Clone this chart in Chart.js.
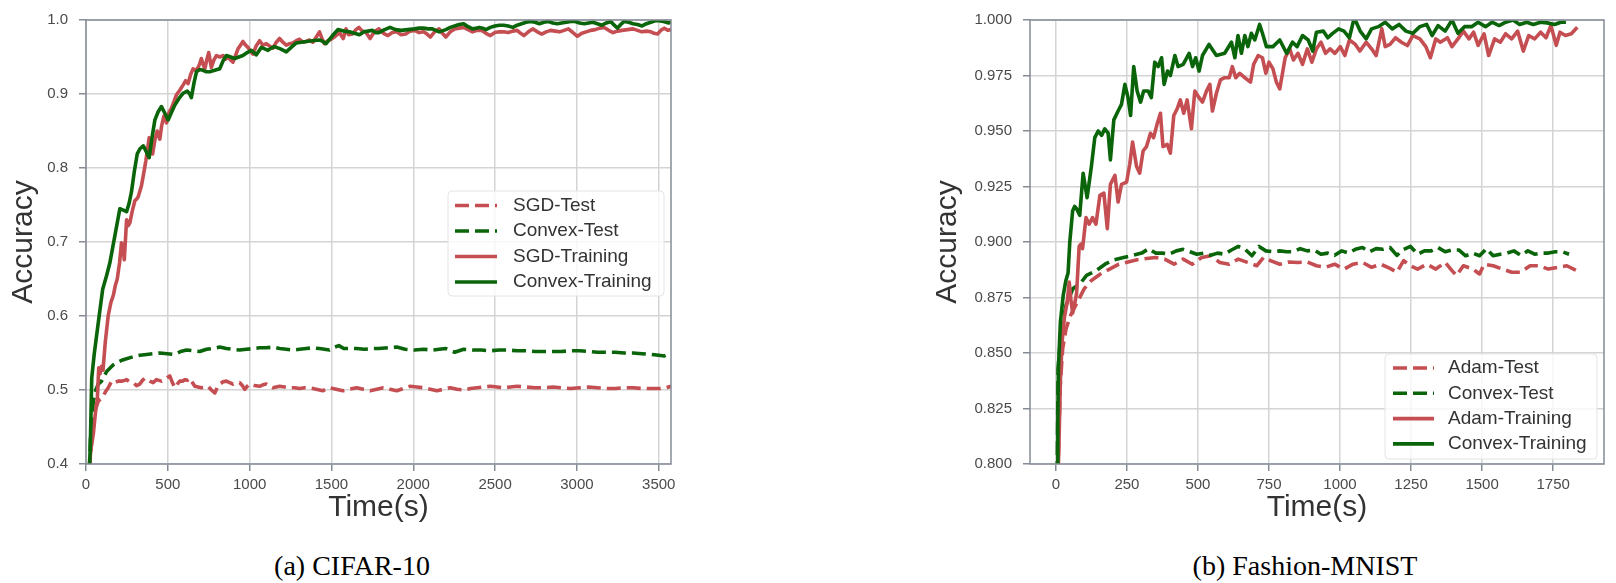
<!DOCTYPE html>
<html>
<head>
<meta charset="utf-8">
<title>Accuracy vs time</title>
<script src="https://cdn.jsdelivr.net/npm/chart.js@4.4.1/dist/chart.umd.min.js"></script>
<style>
  html, body { margin: 0; padding: 0; background: #fff; }
  #wrap { position: relative; width: 1616px; height: 583px; overflow: hidden; }
  canvas { position: absolute; top: 0; }
  #cifar { left: 0; }
  #fashion { left: 850px; }
  .caption {
    position: absolute; top: 550px; transform: translateX(-50%);
    font-family: "Liberation Serif", "Times New Roman", serif; font-size: 28px;
    color: #000; white-space: nowrap;
  }
</style>
</head>
<body>
<div id="wrap">
  <canvas id="cifar" width="800" height="530"></canvas>
  <canvas id="fashion" width="766" height="530"></canvas>
  <div class="caption" style="left:352px">(a) CIFAR-10</div>
  <div class="caption" style="left:1305px">(b) Fashion-MNIST</div>
</div>
<script>
// tick values
const cifarTimeTicks = [0, 500, 1000, 1500, 2000, 2500, 3000, 3500];
const cifarAccTicks = [0.4, 0.5, 0.6, 0.7, 0.8, 0.9, 1.0];
const fashionTimeTicks = [0, 250, 500, 750, 1000, 1250, 1500, 1750];
const fashionAccTicks = [0.8, 0.825, 0.85, 0.875, 0.9, 0.925, 0.95, 0.975, 1.0];

// (a) CIFAR-10, [time s, accuracy]
const cifarSgdTest = [[20,0.39],[35,0.432],[45,0.455],[55,0.472],[75,0.485],[90,0.488],[106,0.492],[120,0.498],[136,0.503],[157,0.512],[177,0.510],[197,0.512],[222,0.512],[248,0.514],[268,0.511],[289,0.510],[309,0.506],[329,0.508],[345,0.513],[360,0.516],[375,0.514],[390,0.512],[410,0.510],[431,0.514],[446,0.513],[461,0.512],[477,0.514],[492,0.516],[512,0.519],[528,0.510],[543,0.503],[558,0.508],[573,0.512],[590,0.512],[604,0.514],[619,0.513],[634,0.516],[650,0.510],[665,0.505],[685,0.504],[705,0.503],[726,0.504],[746,0.505],[766,0.500],[787,0.496],[802,0.503],[817,0.508],[838,0.511],[858,0.512],[878,0.510],[898,0.508],[919,0.510],[939,0.510],[955,0.506],[970,0.501],[985,0.505],[1000,0.508],[1030,0.506],[1061,0.505],[1081,0.507],[1102,0.508],[1122,0.505],[1142,0.503],[1163,0.504],[1183,0.505],[1214,0.504],[1244,0.503],[1275,0.503],[1305,0.502],[1336,0.503],[1366,0.503],[1386,0.502],[1407,0.501],[1427,0.500],[1447,0.499],[1468,0.501],[1488,0.503],[1508,0.502],[1529,0.501],[1549,0.500],[1569,0.499],[1590,0.500],[1610,0.501],[1654,0.503],[1695,0.501],[1736,0.499],[1777,0.501],[1817,0.503],[1858,0.501],[1899,0.499],[1940,0.502],[1981,0.505],[2022,0.504],[2063,0.503],[2104,0.501],[2144,0.499],[2185,0.501],[2226,0.503],[2267,0.501],[2308,0.500],[2349,0.502],[2390,0.503],[2430,0.504],[2471,0.505],[2512,0.504],[2553,0.503],[2594,0.504],[2635,0.505],[2690,0.504],[2744,0.503],[2798,0.503],[2853,0.504],[2907,0.503],[2962,0.502],[3016,0.503],[3071,0.504],[3125,0.503],[3180,0.502],[3234,0.502],[3289,0.503],[3343,0.503],[3398,0.502],[3452,0.502],[3507,0.502],[3540,0.503],[3575,0.505]];
const cifarConvexTest = [[20,0.39],[30,0.45],[45,0.485],[60,0.500],[75,0.508],[95,0.512],[126,0.525],[167,0.534],[198,0.538],[228,0.541],[289,0.545],[330,0.547],[370,0.548],[410,0.549],[451,0.550],[497,0.549],[543,0.548],[578,0.552],[614,0.554],[655,0.553],[695,0.552],[736,0.555],[776,0.556],[817,0.558],[858,0.556],[898,0.555],[939,0.554],[980,0.555],[1020,0.556],[1061,0.557],[1102,0.557],[1142,0.558],[1183,0.556],[1224,0.555],[1264,0.554],[1305,0.555],[1346,0.556],[1386,0.557],[1427,0.556],[1488,0.554],[1520,0.558],[1545,0.560],[1575,0.556],[1610,0.556],[1654,0.556],[1700,0.555],[1750,0.556],[1790,0.556],[1845,0.557],[1899,0.558],[1950,0.555],[2008,0.554],[2063,0.555],[2117,0.554],[2158,0.555],[2199,0.556],[2230,0.553],[2253,0.551],[2280,0.553],[2308,0.555],[2362,0.554],[2417,0.554],[2471,0.553],[2526,0.554],[2580,0.554],[2635,0.553],[2689,0.553],[2744,0.552],[2798,0.552],[2853,0.552],[2907,0.552],[2962,0.553],[3016,0.553],[3071,0.552],[3125,0.551],[3180,0.551],[3234,0.551],[3289,0.550],[3343,0.550],[3398,0.549],[3452,0.548],[3500,0.547],[3534,0.546],[3575,0.550]];
const cifarSgdTrain = [[18,0.39],[30,0.42],[45,0.441],[58,0.47],[69,0.487],[78,0.530],[86,0.522],[95,0.532],[104,0.527],[118,0.565],[136,0.601],[152,0.618],[167,0.628],[180,0.642],[191,0.650],[205,0.672],[217,0.699],[228,0.690],[234,0.676],[248,0.730],[258,0.722],[268,0.726],[283,0.742],[299,0.756],[309,0.758],[319,0.761],[339,0.776],[352,0.792],[366,0.810],[386,0.841],[397,0.826],[407,0.819],[421,0.838],[435,0.850],[451,0.839],[463,0.858],[476,0.870],[492,0.861],[507,0.875],[522,0.881],[538,0.890],[553,0.899],[573,0.905],[593,0.912],[609,0.918],[624,0.914],[639,0.926],[654,0.934],[670,0.932],[685,0.936],[695,0.941],[705,0.948],[716,0.940],[726,0.934],[738,0.946],[750,0.956],[758,0.946],[766,0.936],[782,0.946],[797,0.952],[817,0.950],[837,0.952],[853,0.947],[868,0.950],[883,0.946],[898,0.943],[914,0.952],[929,0.961],[944,0.966],[959,0.971],[975,0.966],[990,0.963],[1005,0.958],[1020,0.954],[1040,0.965],[1061,0.972],[1081,0.966],[1102,0.968],[1122,0.965],[1142,0.962],[1163,0.970],[1183,0.975],[1203,0.970],[1224,0.966],[1244,0.968],[1264,0.969],[1285,0.972],[1305,0.974],[1325,0.970],[1346,0.971],[1366,0.973],[1386,0.970],[1407,0.977],[1427,0.984],[1442,0.975],[1457,0.968],[1478,0.972],[1498,0.974],[1524,0.978],[1549,0.983],[1572,0.975],[1589,0.988],[1605,0.980],[1627,0.981],[1650,0.987],[1668,0.990],[1688,0.985],[1708,0.984],[1736,0.975],[1762,0.984],[1790,0.988],[1818,0.982],[1845,0.979],[1872,0.983],[1899,0.984],[1926,0.980],[1954,0.981],[1981,0.985],[2008,0.986],[2036,0.983],[2063,0.984],[2084,0.981],[2104,0.977],[2130,0.984],[2158,0.988],[2178,0.982],[2199,0.977],[2226,0.984],[2253,0.988],[2280,0.989],[2308,0.990],[2335,0.987],[2362,0.984],[2390,0.986],[2417,0.986],[2444,0.982],[2471,0.979],[2499,0.983],[2526,0.984],[2553,0.984],[2580,0.983],[2608,0.985],[2635,0.986],[2656,0.982],[2676,0.979],[2703,0.984],[2730,0.988],[2758,0.984],[2785,0.981],[2812,0.984],[2839,0.986],[2867,0.985],[2894,0.984],[2921,0.986],[2948,0.988],[2976,0.983],[3003,0.978],[3030,0.982],[3057,0.984],[3084,0.986],[3112,0.987],[3139,0.989],[3166,0.990],[3194,0.986],[3221,0.983],[3248,0.985],[3275,0.986],[3309,0.987],[3343,0.988],[3370,0.986],[3398,0.984],[3425,0.985],[3452,0.984],[3472,0.982],[3493,0.981],[3513,0.986],[3534,0.989],[3555,0.986],[3575,0.987]];
const cifarConvexTrain = [[20,0.39],[26,0.42],[35,0.516],[50,0.548],[65,0.574],[84,0.606],[102,0.636],[125,0.654],[146,0.672],[176,0.708],[207,0.745],[228,0.743],[248,0.741],[263,0.752],[278,0.768],[295,0.795],[313,0.819],[330,0.826],[350,0.830],[368,0.822],[386,0.814],[404,0.842],[421,0.865],[441,0.876],[461,0.883],[482,0.874],[502,0.865],[522,0.875],[543,0.885],[568,0.894],[593,0.901],[619,0.904],[634,0.900],[644,0.895],[660,0.915],[675,0.930],[695,0.933],[715,0.932],[736,0.930],[756,0.930],[787,0.932],[817,0.934],[838,0.945],[858,0.952],[884,0.950],[909,0.948],[934,0.950],[959,0.952],[985,0.956],[1010,0.959],[1041,0.953],[1071,0.963],[1092,0.961],[1112,0.959],[1132,0.962],[1152,0.964],[1188,0.961],[1224,0.957],[1254,0.963],[1285,0.969],[1316,0.970],[1346,0.971],[1386,0.972],[1427,0.973],[1447,0.971],[1467,0.968],[1503,0.978],[1539,0.987],[1575,0.985],[1610,0.984],[1640,0.982],[1671,0.980],[1700,0.984],[1749,0.986],[1770,0.983],[1790,0.983],[1825,0.987],[1858,0.990],[1892,0.987],[1926,0.986],[1967,0.987],[2008,0.988],[2036,0.989],[2063,0.989],[2090,0.988],[2117,0.988],[2158,0.984],[2199,0.987],[2226,0.990],[2253,0.992],[2280,0.994],[2308,0.995],[2335,0.991],[2362,0.988],[2383,0.989],[2403,0.990],[2424,0.989],[2444,0.987],[2471,0.990],[2499,0.992],[2526,0.993],[2553,0.993],[2580,0.992],[2608,0.990],[2635,0.993],[2662,0.995],[2690,0.997],[2717,0.998],[2744,0.997],[2771,0.995],[2798,0.997],[2826,0.998],[2853,0.996],[2880,0.995],[2907,0.996],[2935,0.997],[2962,0.998],[2989,0.998],[3016,0.996],[3044,0.995],[3071,0.996],[3098,0.997],[3125,0.995],[3153,0.993],[3180,0.996],[3207,0.998],[3228,0.993],[3248,0.989],[3268,0.994],[3289,0.998],[3316,0.997],[3343,0.995],[3370,0.994],[3398,0.992],[3425,0.995],[3452,0.997],[3478,0.999],[3501,0.999],[3530,0.998],[3561,0.996],[3575,0.997]];

// (b) Fashion-MNIST, [time s, accuracy]
const fashionAdamTest = [[6,0.795],[8,0.800],[15,0.8345],[24,0.852],[36,0.861],[52,0.867],[76,0.873],[100,0.879],[125,0.8827],[157,0.8856],[189,0.8878],[222,0.890],[254,0.891],[286,0.892],[319,0.8926],[351,0.893],[383,0.8923],[416,0.890],[448,0.8923],[480,0.890],[513,0.893],[545,0.8938],[577,0.8908],[610,0.890],[642,0.8923],[674,0.8908],[707,0.8893],[731,0.893],[755,0.8916],[788,0.890],[820,0.891],[852,0.8908],[885,0.891],[917,0.8893],[949,0.8886],[981,0.890],[1014,0.8878],[1046,0.890],[1079,0.8908],[1111,0.8886],[1143,0.890],[1176,0.8881],[1200,0.8864],[1224,0.8916],[1248,0.8893],[1273,0.8878],[1305,0.890],[1337,0.8878],[1370,0.8908],[1394,0.8871],[1410,0.8849],[1434,0.8893],[1467,0.8878],[1491,0.8856],[1507,0.890],[1539,0.8893],[1572,0.8878],[1604,0.8864],[1636,0.8864],[1669,0.8893],[1701,0.8893],[1733,0.8878],[1766,0.8886],[1798,0.8893],[1822,0.8878],[1839,0.8867]];
const fashionConvexTest = [[3,0.795],[5,0.800],[8,0.843],[19,0.861],[36,0.8716],[60,0.879],[84,0.881],[108,0.885],[141,0.887],[173,0.890],[205,0.892],[238,0.893],[270,0.894],[302,0.895],[327,0.897],[351,0.895],[375,0.895],[399,0.8945],[424,0.896],[448,0.8967],[472,0.8956],[496,0.8945],[521,0.895],[545,0.894],[569,0.895],[593,0.8945],[618,0.8964],[642,0.898],[666,0.8967],[690,0.8938],[715,0.898],[739,0.896],[763,0.8956],[788,0.896],[812,0.8956],[836,0.8956],[860,0.897],[885,0.896],[909,0.8964],[933,0.8945],[957,0.895],[981,0.894],[1006,0.896],[1030,0.895],[1054,0.8967],[1079,0.8975],[1103,0.8956],[1127,0.897],[1151,0.8967],[1176,0.8975],[1200,0.894],[1224,0.8967],[1248,0.898],[1273,0.8945],[1297,0.896],[1321,0.896],[1345,0.8975],[1370,0.8956],[1394,0.8964],[1418,0.8964],[1442,0.8938],[1467,0.895],[1491,0.8938],[1515,0.897],[1539,0.8938],[1564,0.8945],[1588,0.895],[1612,0.896],[1636,0.894],[1661,0.896],[1685,0.8945],[1709,0.895],[1733,0.895],[1758,0.8956],[1782,0.8956],[1806,0.8945]];
const fashionAdamTrain = [[8,0.795],[12,0.815],[16,0.838],[22,0.855],[30,0.866],[40,0.873],[47,0.882],[53,0.874],[59,0.868],[66,0.872],[73,0.877],[82,0.898],[88,0.899],[94,0.897],[106,0.911],[117,0.908],[129,0.911],[141,0.908],[155,0.921],[169,0.922],[181,0.906],[192,0.926],[208,0.930],[219,0.918],[231,0.926],[249,0.927],[260,0.935],[270,0.945],[284,0.934],[295,0.931],[307,0.941],[319,0.943],[333,0.949],[344,0.947],[356,0.953],[368,0.958],[377,0.943],[392,0.944],[403,0.940],[415,0.957],[427,0.960],[438,0.964],[450,0.958],[462,0.964],[477,0.951],[489,0.968],[504,0.965],[516,0.963],[530,0.968],[542,0.971],[551,0.959],[565,0.967],[579,0.973],[594,0.974],[610,0.974],[621,0.979],[633,0.974],[647,0.976],[665,0.974],[685,0.972],[696,0.980],[712,0.984],[727,0.983],[739,0.976],[750,0.981],[764,0.978],[776,0.972],[788,0.969],[807,0.983],[823,0.987],[836,0.982],[852,0.985],[868,0.980],[885,0.987],[901,0.981],[917,0.987],[933,0.990],[949,0.985],[965,0.987],[982,0.985],[1001,0.988],[1017,0.984],[1033,0.991],[1054,0.989],[1070,0.986],[1092,0.990],[1111,0.987],[1127,0.984],[1147,0.996],[1159,0.988],[1176,0.989],[1195,0.992],[1216,0.990],[1237,0.9885],[1256,0.993],[1281,0.9915],[1302,0.988],[1318,0.983],[1337,0.9915],[1353,0.990],[1378,0.992],[1394,0.988],[1415,0.9915],[1434,0.995],[1454,0.9915],[1470,0.9945],[1486,0.9886],[1507,0.9938],[1523,0.984],[1544,0.9915],[1564,0.990],[1583,0.9938],[1604,0.9915],[1625,0.995],[1645,0.986],[1664,0.993],[1685,0.9915],[1706,0.9945],[1725,0.992],[1742,0.9975],[1761,0.9886],[1774,0.9945],[1793,0.993],[1814,0.9938],[1835,0.9967]];
const fashionConvexTrain = [[5,0.795],[7,0.820],[9,0.843],[16,0.864],[26,0.876],[35,0.8825],[43,0.886],[49,0.900],[59,0.914],[66,0.916],[73,0.915],[84,0.912],[96,0.931],[110,0.920],[125,0.934],[137,0.947],[149,0.950],[161,0.948],[172,0.951],[184,0.949],[192,0.937],[204,0.955],[219,0.959],[231,0.962],[243,0.971],[254,0.965],[263,0.957],[274,0.979],[286,0.968],[298,0.963],[309,0.968],[325,0.968],[336,0.965],[348,0.981],[360,0.979],[372,0.983],[381,0.971],[393,0.977],[403,0.975],[419,0.984],[430,0.979],[448,0.980],[469,0.985],[481,0.979],[492,0.983],[504,0.977],[516,0.984],[539,0.989],[565,0.984],[594,0.985],[618,0.990],[630,0.983],[641,0.993],[653,0.985],[665,0.993],[676,0.988],[688,0.994],[700,0.991],[717,0.998],[727,0.994],[741,0.988],[764,0.988],[788,0.991],[812,0.985],[833,0.990],[849,0.988],[868,0.993],[888,0.991],[904,0.986],[917,0.9945],[941,0.995],[957,0.992],[974,0.994],[995,0.996],[1014,0.995],[1033,0.992],[1050,1.001],[1071,0.995],[1092,0.9915],[1111,0.996],[1135,0.997],[1159,0.999],[1184,0.996],[1208,0.998],[1232,0.995],[1256,0.994],[1281,0.997],[1305,0.998],[1324,0.993],[1345,0.9975],[1370,0.995],[1394,1.000],[1415,0.994],[1438,0.997],[1463,0.997],[1486,0.999],[1512,0.997],[1535,0.999],[1560,0.9975],[1583,0.999],[1609,1.000],[1632,0.998],[1657,0.999],[1680,0.998],[1706,0.999],[1729,0.9987],[1755,0.998],[1777,0.999],[1795,0.999]];

const RED = '#c44e52';
const GREEN = '#0a640a';
const GRID = '#d4d4d4';
const SPINE = '#858c96';
const TICK_TEXT = '#4a4a4a';
const TITLE_TEXT = '#333333';
const FONT = '"Liberation Sans", Arial, sans-serif';

function lineSet(label, points, color, dashed, order) {
  return {
    label: label,
    data: points.map(p => ({ x: p[0], y: p[1] })),
    borderColor: color,
    backgroundColor: color,
    borderWidth: 3.6,
    borderDash: dashed ? [14, 6] : [],
    borderJoinStyle: 'round',
    borderCapStyle: 'butt',
    pointRadius: 0,
    tension: 0,
    fill: false,
    clip: 0,
    order: order
  };
}

// axes box drawn over the lines, like matplotlib spines
const frame = {
  id: 'frame',
  afterDraw(chart) {
    const { ctx, chartArea: a } = chart;
    ctx.save();
    ctx.strokeStyle = SPINE;
    ctx.lineWidth = 1.5;
    ctx.strokeRect(a.left, a.top, a.right - a.left, a.bottom - a.top);
    ctx.restore();
  }
};

// legend inside the plot area
const boxLegend = {
  id: 'boxLegend',
  afterDraw(chart, args, o) {
    const { ctx, chartArea: a } = chart;
    const x0 = a.left + o.left;
    const y0 = a.top + o.top;
    ctx.save();
    ctx.beginPath();
    ctx.roundRect(x0, y0, o.width, o.height, 4);
    ctx.fillStyle = 'rgba(255,255,255,0.8)';
    ctx.fill();
    ctx.strokeStyle = '#e4e4e4';
    ctx.lineWidth = 1;
    ctx.stroke();
    ctx.font = o.fontSize + 'px ' + FONT;
    ctx.textBaseline = 'middle';
    chart.data.datasets.forEach((ds, i) => {
      const y = y0 + o.firstRow + i * o.rowGap;
      ctx.beginPath();
      ctx.setLineDash(ds.borderDash);
      ctx.lineCap = 'butt';
      ctx.strokeStyle = ds.borderColor;
      ctx.lineWidth = ds.borderWidth;
      ctx.moveTo(x0 + o.handleX, y);
      ctx.lineTo(x0 + o.handleX + o.handleLen, y);
      ctx.stroke();
      ctx.setLineDash([]);
      ctx.fillStyle = TITLE_TEXT;
      ctx.fillText(ds.label, x0 + o.textX, y);
    });
    ctx.restore();
  }
};

function axes(o) {
  const tickFont = { family: FONT, size: 15 };
  const titleFont = { family: FONT, size: 30 };
  const grid = { color: GRID, lineWidth: 1.5, tickColor: SPINE, tickLength: 7, tickWidth: 1.5 };
  return {
    x: {
      type: 'linear', min: o.xMin, max: o.xMax,
      afterFit: s => { s.height = o.xHeight; },
      afterBuildTicks: s => { s.ticks = o.xTicks.map(v => ({ value: v })); },
      ticks: { autoSkip: false, maxRotation: 0, font: tickFont, color: TICK_TEXT, padding: 5,
        callback: v => String(v) },
      grid: grid,
      border: { display: false },
      title: { display: true, text: 'Time(s)', font: titleFont, color: TITLE_TEXT,
        padding: { top: 0, bottom: 4 } }
    },
    y: {
      type: 'linear', min: o.yMin, max: o.yMax,
      afterFit: s => { s.width = o.yWidth; },
      afterBuildTicks: s => { s.ticks = o.yTicks.map(v => ({ value: v })); },
      ticks: { autoSkip: false, font: tickFont, color: TICK_TEXT, padding: 11,
        callback: v => v.toFixed(o.yDigits) },
      grid: grid,
      border: { display: false },
      title: { display: true, text: 'Accuracy', font: titleFont, color: TITLE_TEXT,
        padding: { top: o.yTitlePad, bottom: 0 } }
    }
  };
}

new Chart(document.getElementById('cifar'), {
  type: 'line',
  data: {
    datasets: [
      lineSet('SGD-Test', cifarSgdTest, RED, true, 4),
      lineSet('Convex-Test', cifarConvexTest, GREEN, true, 3),
      lineSet('SGD-Training', cifarSgdTrain, RED, false, 2),
      lineSet('Convex-Training', cifarConvexTrain, GREEN, false, 1)
    ]
  },
  plugins: [frame, boxLegend],
  options: {
    responsive: false,
    animation: false,
    events: [],
    layout: { padding: { left: 0, top: 14, right: 129, bottom: 0 } },
    scales: axes({ xMin: 0, xMax: 3575, xTicks: cifarTimeTicks, xHeight: 66,
      yMin: 0.4, yMax: 1.0, yTicks: cifarAccTicks, yDigits: 1, yWidth: 86, yTitlePad: 6 }),
    plugins: {
      legend: { display: false },
      tooltip: { enabled: false },
      boxLegend: { left: 362, top: 171, width: 216, height: 105, firstRow: 14.5, rowGap: 25.5,
        handleX: 7, handleLen: 42, textX: 65, fontSize: 19 }
    }
  }
});

new Chart(document.getElementById('fashion'), {
  type: 'line',
  data: {
    datasets: [
      lineSet('Adam-Test', fashionAdamTest, RED, true, 4),
      lineSet('Convex-Test', fashionConvexTest, GREEN, true, 3),
      lineSet('Adam-Training', fashionAdamTrain, RED, false, 2),
      lineSet('Convex-Training', fashionConvexTrain, GREEN, false, 1)
    ]
  },
  plugins: [frame, boxLegend],
  options: {
    responsive: false,
    animation: false,
    events: [],
    layout: { padding: { left: 0, top: 14, right: 12, bottom: 0 } },
    scales: axes({ xMin: -91, xMax: 1929, xTicks: fashionTimeTicks, xHeight: 66,
      yMin: 0.8, yMax: 1.0, yTicks: fashionAccTicks, yDigits: 3, yWidth: 180, yTitlePad: 80 }),
    plugins: {
      legend: { display: false },
      tooltip: { enabled: false },
      boxLegend: { left: 355, top: 334, width: 212, height: 105, firstRow: 14, rowGap: 25.3,
        handleX: 8, handleLen: 41, textX: 63, fontSize: 19 }
    }
  }
});
</script>
</body>
</html>
